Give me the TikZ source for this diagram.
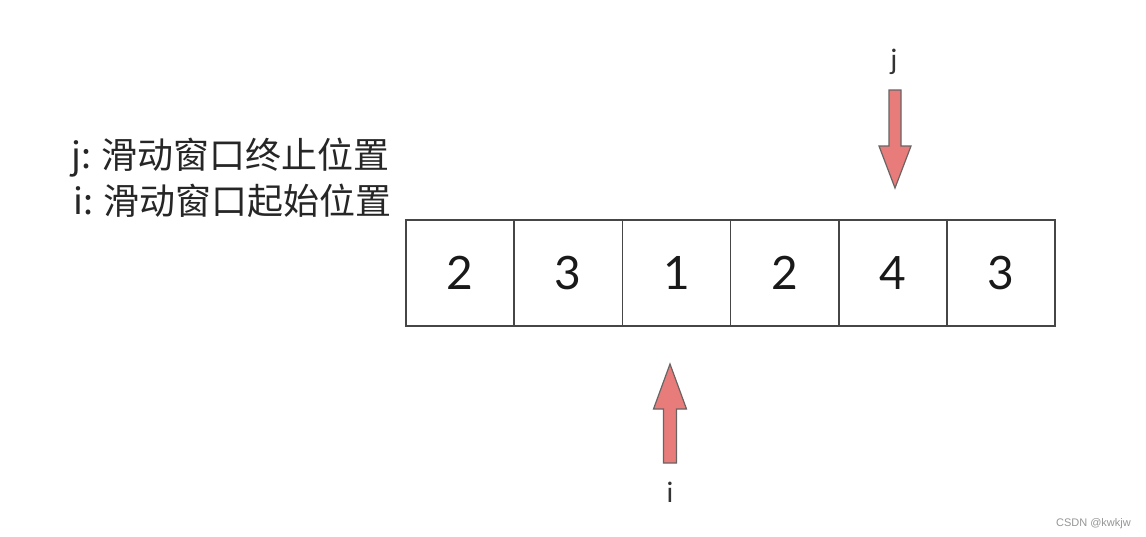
\documentclass[tikz,border=0pt]{standalone}
\usepackage{fontspec}
\newfontfamily\cjk{Noto Sans CJK SC}
\newfontfamily\lat{Lato}
\newfontfamily\wm{Liberation Sans}
\definecolor{arrowfill}{RGB}{232,124,122}
\definecolor{arrowline}{RGB}{105,100,100}
\definecolor{cellline}{RGB}{70,70,70}
\definecolor{wmgray}{RGB}{150,150,150}
\tikzset{
  cellbox/.style={draw=cellline, line width=1.6pt, minimum width=108.3pt, minimum height=106pt, inner sep=0pt, outer sep=0pt, font=\lat\fontsize{46}{50}\selectfont, text=black!90},
  blockarrow/.style={fill=arrowfill, draw=arrowline, line width=1.2pt, line join=miter},
  ptrlabel/.style={font=\lat\fontsize{28}{30}\selectfont, text=black!80, inner sep=0pt},
  legend/.style={font=\cjk\fontsize{36}{40}\selectfont, text=black!85, anchor=base west, inner sep=0pt}
}
\begin{document}
\begin{tikzpicture}[x=1pt,y=-1pt]
\useasboundingbox[fill=white] (0,0) rectangle (1146,536);
% array cells
\foreach \v [count=\k] in {2,3,1,2,4,3}{
  \node[cellbox] (c\k) at ({406+108.2*(\k-0.5)},273) {\v};
}
% legend
\node[legend] (lj) at (71,168) {j: 滑动窗口终止位置};
\node[legend] (li) at (73,214) {i: 滑动窗口起始位置};
% j pointer (above cell 5)
\node[ptrlabel] (jl) at (894,62) {j};
\coordinate (jtop) at (895,90);
\coordinate (jtip) at (895,188);
\filldraw[blockarrow] ([xshift=-6pt]jtop) -- ([xshift=6pt]jtop) -- ([xshift=6pt,yshift=-56pt]jtop) -- ([xshift=16pt,yshift=-56pt]jtop) -- (jtip) -- ([xshift=-16pt,yshift=-56pt]jtop) -- ([xshift=-6pt,yshift=-56pt]jtop) -- cycle;
% i pointer (below cell 3)
\node[ptrlabel] (il) at (670,492) {i};
\coordinate (ibot) at (670,463);
\coordinate (itip) at (670,364);
\filldraw[blockarrow] ([xshift=-6.5pt]ibot) -- ([xshift=6.5pt]ibot) -- ([xshift=6.5pt,yshift=54pt]ibot) -- ([xshift=16.5pt,yshift=54pt]ibot) -- (itip) -- ([xshift=-16.5pt,yshift=54pt]ibot) -- ([xshift=-6.5pt,yshift=54pt]ibot) -- cycle;
% watermark
\node[font=\wm\fontsize{11}{12}\selectfont, text=wmgray, anchor=base east, inner sep=0pt] (wm) at (1131,526) {CSDN @kwkjw};
\end{tikzpicture}
\end{document}
